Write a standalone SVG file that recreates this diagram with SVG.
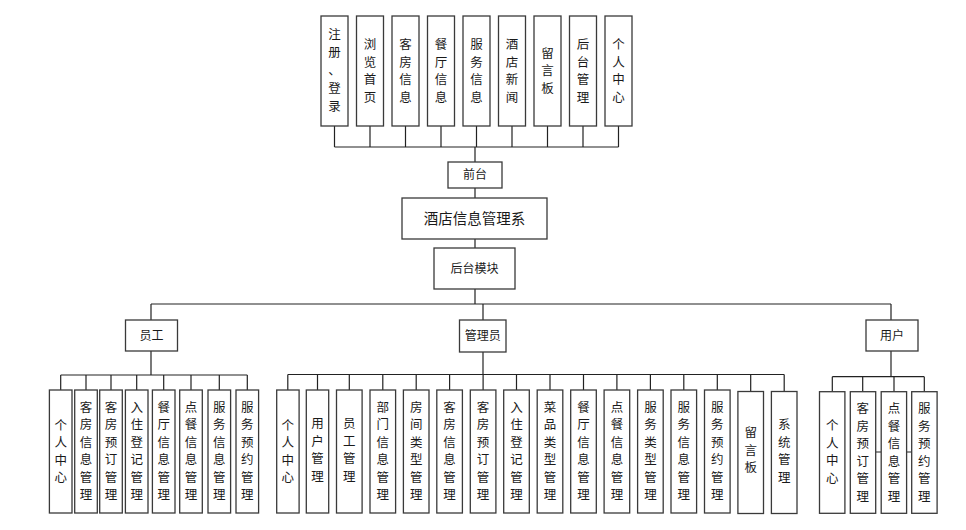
<svg xmlns="http://www.w3.org/2000/svg" width="966" height="530" viewBox="0 0 966 530">
<style>
.b{fill:#fff;stroke:#3a3a3a;stroke-width:1.3}
.c{fill:none;stroke:#222;stroke-width:1.2}
.t{font-family:"Liberation Sans","Noto Sans CJK SC",sans-serif;font-size:12.5px;fill:#1a1a1a;text-anchor:middle;dominant-baseline:central}
.m{font-size:14.5px}
.s{font-size:12px}
</style>
<rect width="966" height="530" fill="#fff"/>
<g id="connectors">
<path class="c" d="M334.5 126V147M370 126V147M405.5 126V147M441 126V147M476.5 126V147M512 126V147M547.5 126V147M583 126V147M618.5 126V147M334.5 147H618.5M475 147V162M475 188V198M475 239V248M475 289V304M151 304H891M151 304V320M891 304V320M483 304V320"/>
<path class="c" d="M151 351V375M60.7 375H247.3M60.7 375V390M86 375V390M111 375V390M136.7 375V390M163.7 375V390M191 375V390M219.3 375V390M247.3 375V390"/>
<path class="c" d="M483 352V374.5" stroke-width="2"/>
<path class="c" d="M287.8 374.5H784.2M287.8 374.5V390M317.5 374.5V390M349.3 374.5V390M382.8 374.5V390M416.2 374.5V390M449.6 374.5V390M483.1 374.5V390M516.5 374.5V390M550 374.5V390M583.5 374.5V390M616.9 374.5V390M650.4 374.5V390M683.8 374.5V390M717.3 374.5V390M750.7 374.5V391.5M784.2 374.5V391.5"/>
<path class="c" d="M891 351V376.7" stroke-width="2"/>
<path class="c" d="M832.3 376.7H924.3M832.3 376.7V391.7M862.7 376.7V391.7M894 376.7V391.7M924.3 376.7V391.7M875.7 452H881M906.7 452H911.7"/>
</g>
<g id="top1"><rect class="b" x="321" y="16" width="27" height="110"/><text class="t"><tspan x="334.5" y="35">注</tspan><tspan x="334.5" y="53">册</tspan><tspan x="334.5" y="71">、</tspan><tspan x="334.5" y="89">登</tspan><tspan x="334.5" y="107">录</tspan></text></g>
<g id="top2"><rect class="b" x="356.5" y="16" width="27" height="110"/><text class="t"><tspan x="370" y="45">浏</tspan><tspan x="370" y="62.5">览</tspan><tspan x="370" y="80">首</tspan><tspan x="370" y="97.5">页</tspan></text></g>
<g id="top3"><rect class="b" x="392" y="16" width="27" height="110"/><text class="t"><tspan x="405.5" y="45">客</tspan><tspan x="405.5" y="62.5">房</tspan><tspan x="405.5" y="80">信</tspan><tspan x="405.5" y="97.5">息</tspan></text></g>
<g id="top4"><rect class="b" x="427.5" y="16" width="27" height="110"/><text class="t"><tspan x="441" y="45">餐</tspan><tspan x="441" y="62.5">厅</tspan><tspan x="441" y="80">信</tspan><tspan x="441" y="97.5">息</tspan></text></g>
<g id="top5"><rect class="b" x="463" y="16" width="27" height="110"/><text class="t"><tspan x="476.5" y="45">服</tspan><tspan x="476.5" y="62.5">务</tspan><tspan x="476.5" y="80">信</tspan><tspan x="476.5" y="97.5">息</tspan></text></g>
<g id="top6"><rect class="b" x="498.5" y="16" width="27" height="110"/><text class="t"><tspan x="512" y="45">酒</tspan><tspan x="512" y="62.5">店</tspan><tspan x="512" y="80">新</tspan><tspan x="512" y="97.5">闻</tspan></text></g>
<g id="top7"><rect class="b" x="534" y="16" width="27" height="110"/><text class="t"><tspan x="547.5" y="53.5">留</tspan><tspan x="547.5" y="71">言</tspan><tspan x="547.5" y="88.5">板</tspan></text></g>
<g id="top8"><rect class="b" x="569.5" y="16" width="27" height="110"/><text class="t"><tspan x="583" y="45">后</tspan><tspan x="583" y="62.5">台</tspan><tspan x="583" y="80">管</tspan><tspan x="583" y="97.5">理</tspan></text></g>
<g id="top9"><rect class="b" x="605" y="16" width="27" height="110"/><text class="t"><tspan x="618.5" y="45">个</tspan><tspan x="618.5" y="62.5">人</tspan><tspan x="618.5" y="80">中</tspan><tspan x="618.5" y="97.5">心</tspan></text></g>
<g id="qiantai"><rect class="b" x="448" y="162" width="54" height="26"/><text class="t s" x="475" y="175">前台</text></g>
<g id="root"><rect class="b" x="402" y="198" width="145" height="41"/><text class="t m" x="474.5" y="218.5">酒店信息管理系</text></g>
<g id="houtai"><rect class="b" x="434" y="248" width="81" height="41"/><text class="t s" x="474.5" y="268.5">后台模块</text></g>
<g id="yuangong"><rect class="b" x="125.5" y="320" width="52" height="31"/><text class="t s" x="151.5" y="335.5">员工</text></g>
<g id="guanliyuan"><rect class="b" x="459.5" y="320" width="46.5" height="32"/><text class="t s" x="482.7" y="336">管理员</text></g>
<g id="yonghu"><rect class="b" x="866" y="320" width="52" height="31"/><text class="t s" x="892" y="335.5">用户</text></g>
<g id="e1"><rect class="b" x="49.4" y="390" width="22.6" height="123"/><text class="t"><tspan x="60.7" y="425.5">个</tspan><tspan x="60.7" y="443">人</tspan><tspan x="60.7" y="460.5">中</tspan><tspan x="60.7" y="478">心</tspan></text></g>
<g id="e2"><rect class="b" x="74.7" y="390" width="22.6" height="123"/><text class="t"><tspan x="86" y="407.5">客</tspan><tspan x="86" y="425">房</tspan><tspan x="86" y="442.5">信</tspan><tspan x="86" y="460">息</tspan><tspan x="86" y="477.5">管</tspan><tspan x="86" y="495">理</tspan></text></g>
<g id="e3"><rect class="b" x="99.7" y="390" width="22.6" height="123"/><text class="t"><tspan x="111" y="407.5">客</tspan><tspan x="111" y="425">房</tspan><tspan x="111" y="442.5">预</tspan><tspan x="111" y="460">订</tspan><tspan x="111" y="477.5">管</tspan><tspan x="111" y="495">理</tspan></text></g>
<g id="e4"><rect class="b" x="125.4" y="390" width="22.6" height="123"/><text class="t"><tspan x="136.7" y="407.5">入</tspan><tspan x="136.7" y="425">住</tspan><tspan x="136.7" y="442.5">登</tspan><tspan x="136.7" y="460">记</tspan><tspan x="136.7" y="477.5">管</tspan><tspan x="136.7" y="495">理</tspan></text></g>
<g id="e5"><rect class="b" x="152.4" y="390" width="22.6" height="123"/><text class="t"><tspan x="163.7" y="407.5">餐</tspan><tspan x="163.7" y="425">厅</tspan><tspan x="163.7" y="442.5">信</tspan><tspan x="163.7" y="460">息</tspan><tspan x="163.7" y="477.5">管</tspan><tspan x="163.7" y="495">理</tspan></text></g>
<g id="e6"><rect class="b" x="179.7" y="390" width="22.6" height="123"/><text class="t"><tspan x="191" y="407.5">点</tspan><tspan x="191" y="425">餐</tspan><tspan x="191" y="442.5">信</tspan><tspan x="191" y="460">息</tspan><tspan x="191" y="477.5">管</tspan><tspan x="191" y="495">理</tspan></text></g>
<g id="e7"><rect class="b" x="208" y="390" width="22.6" height="123"/><text class="t"><tspan x="219.3" y="407.5">服</tspan><tspan x="219.3" y="425">务</tspan><tspan x="219.3" y="442.5">信</tspan><tspan x="219.3" y="460">息</tspan><tspan x="219.3" y="477.5">管</tspan><tspan x="219.3" y="495">理</tspan></text></g>
<g id="e8"><rect class="b" x="236" y="390" width="22.6" height="123"/><text class="t"><tspan x="247.3" y="407.5">服</tspan><tspan x="247.3" y="425">务</tspan><tspan x="247.3" y="442.5">预</tspan><tspan x="247.3" y="460">约</tspan><tspan x="247.3" y="477.5">管</tspan><tspan x="247.3" y="495">理</tspan></text></g>
<g id="a1"><rect class="b" x="276.7" y="390" width="22.4" height="123"/><text class="t"><tspan x="287.8" y="425.5">个</tspan><tspan x="287.8" y="443">人</tspan><tspan x="287.8" y="460.5">中</tspan><tspan x="287.8" y="478">心</tspan></text></g>
<g id="a2"><rect class="b" x="306.3" y="390" width="22.4" height="123"/><text class="t"><tspan x="317.5" y="424">用</tspan><tspan x="317.5" y="441.5">户</tspan><tspan x="317.5" y="459">管</tspan><tspan x="317.5" y="476.5">理</tspan></text></g>
<g id="a3"><rect class="b" x="336.5" y="390" width="25.6" height="123"/><text class="t"><tspan x="349.3" y="424">员</tspan><tspan x="349.3" y="441.5">工</tspan><tspan x="349.3" y="459">管</tspan><tspan x="349.3" y="476.5">理</tspan></text></g>
<g id="a4"><rect class="b" x="370" y="390" width="25.6" height="123"/><text class="t"><tspan x="382.8" y="407.5">部</tspan><tspan x="382.8" y="425">门</tspan><tspan x="382.8" y="442.5">信</tspan><tspan x="382.8" y="460">息</tspan><tspan x="382.8" y="477.5">管</tspan><tspan x="382.8" y="495">理</tspan></text></g>
<g id="a5"><rect class="b" x="403.4" y="390" width="25.6" height="123"/><text class="t"><tspan x="416.2" y="407.5">房</tspan><tspan x="416.2" y="425">间</tspan><tspan x="416.2" y="442.5">类</tspan><tspan x="416.2" y="460">型</tspan><tspan x="416.2" y="477.5">管</tspan><tspan x="416.2" y="495">理</tspan></text></g>
<g id="a6"><rect class="b" x="436.8" y="390" width="25.6" height="123"/><text class="t"><tspan x="449.6" y="407.5">客</tspan><tspan x="449.6" y="425">房</tspan><tspan x="449.6" y="442.5">信</tspan><tspan x="449.6" y="460">息</tspan><tspan x="449.6" y="477.5">管</tspan><tspan x="449.6" y="495">理</tspan></text></g>
<g id="a7"><rect class="b" x="470.3" y="390" width="25.6" height="123"/><text class="t"><tspan x="483.1" y="407.5">客</tspan><tspan x="483.1" y="425">房</tspan><tspan x="483.1" y="442.5">预</tspan><tspan x="483.1" y="460">订</tspan><tspan x="483.1" y="477.5">管</tspan><tspan x="483.1" y="495">理</tspan></text></g>
<g id="a8"><rect class="b" x="503.7" y="390" width="25.6" height="123"/><text class="t"><tspan x="516.5" y="407.5">入</tspan><tspan x="516.5" y="425">住</tspan><tspan x="516.5" y="442.5">登</tspan><tspan x="516.5" y="460">记</tspan><tspan x="516.5" y="477.5">管</tspan><tspan x="516.5" y="495">理</tspan></text></g>
<g id="a9"><rect class="b" x="537.2" y="390" width="25.6" height="123"/><text class="t"><tspan x="550" y="407.5">菜</tspan><tspan x="550" y="425">品</tspan><tspan x="550" y="442.5">类</tspan><tspan x="550" y="460">型</tspan><tspan x="550" y="477.5">管</tspan><tspan x="550" y="495">理</tspan></text></g>
<g id="a10"><rect class="b" x="570.7" y="390" width="25.6" height="123"/><text class="t"><tspan x="583.5" y="407.5">餐</tspan><tspan x="583.5" y="425">厅</tspan><tspan x="583.5" y="442.5">信</tspan><tspan x="583.5" y="460">息</tspan><tspan x="583.5" y="477.5">管</tspan><tspan x="583.5" y="495">理</tspan></text></g>
<g id="a11"><rect class="b" x="604.1" y="390" width="25.6" height="123"/><text class="t"><tspan x="616.9" y="407.5">点</tspan><tspan x="616.9" y="425">餐</tspan><tspan x="616.9" y="442.5">信</tspan><tspan x="616.9" y="460">息</tspan><tspan x="616.9" y="477.5">管</tspan><tspan x="616.9" y="495">理</tspan></text></g>
<g id="a12"><rect class="b" x="637.6" y="390" width="25.6" height="123"/><text class="t"><tspan x="650.4" y="407.5">服</tspan><tspan x="650.4" y="425">务</tspan><tspan x="650.4" y="442.5">类</tspan><tspan x="650.4" y="460">型</tspan><tspan x="650.4" y="477.5">管</tspan><tspan x="650.4" y="495">理</tspan></text></g>
<g id="a13"><rect class="b" x="671" y="390" width="25.6" height="123"/><text class="t"><tspan x="683.8" y="407.5">服</tspan><tspan x="683.8" y="425">务</tspan><tspan x="683.8" y="442.5">信</tspan><tspan x="683.8" y="460">息</tspan><tspan x="683.8" y="477.5">管</tspan><tspan x="683.8" y="495">理</tspan></text></g>
<g id="a14"><rect class="b" x="704.5" y="390" width="25.6" height="123"/><text class="t"><tspan x="717.3" y="407.5">服</tspan><tspan x="717.3" y="425">务</tspan><tspan x="717.3" y="442.5">预</tspan><tspan x="717.3" y="460">约</tspan><tspan x="717.3" y="477.5">管</tspan><tspan x="717.3" y="495">理</tspan></text></g>
<g id="a15"><rect class="b" x="737.9" y="391.5" width="25.6" height="122"/><text class="t"><tspan x="750.7" y="433">留</tspan><tspan x="750.7" y="450.5">言</tspan><tspan x="750.7" y="468">板</tspan></text></g>
<g id="a16"><rect class="b" x="771.4" y="391.5" width="25.6" height="122"/><text class="t"><tspan x="784.2" y="425">系</tspan><tspan x="784.2" y="442.5">统</tspan><tspan x="784.2" y="460">管</tspan><tspan x="784.2" y="477.5">理</tspan></text></g>
<g id="u1"><rect class="b" x="819.5" y="391.7" width="25.4" height="121.6"/><text class="t"><tspan x="832.3" y="426">个</tspan><tspan x="832.3" y="443.5">人</tspan><tspan x="832.3" y="461">中</tspan><tspan x="832.3" y="478.5">心</tspan></text></g>
<g id="u2"><rect class="b" x="850.3" y="391.7" width="25.4" height="121.6"/><text class="t"><tspan x="862.7" y="409">客</tspan><tspan x="862.7" y="426.5">房</tspan><tspan x="862.7" y="444">预</tspan><tspan x="862.7" y="461.5">订</tspan><tspan x="862.7" y="479">管</tspan><tspan x="862.7" y="496.5">理</tspan></text></g>
<g id="u3"><rect class="b" x="881.2" y="391.7" width="25.4" height="121.6"/><text class="t"><tspan x="894" y="409">点</tspan><tspan x="894" y="426.5">餐</tspan><tspan x="894" y="444">信</tspan><tspan x="894" y="461.5">息</tspan><tspan x="894" y="479">管</tspan><tspan x="894" y="496.5">理</tspan></text></g>
<g id="u4"><rect class="b" x="911.7" y="391.7" width="25.4" height="121.6"/><text class="t"><tspan x="924.3" y="409">服</tspan><tspan x="924.3" y="426.5">务</tspan><tspan x="924.3" y="444">预</tspan><tspan x="924.3" y="461.5">约</tspan><tspan x="924.3" y="479">管</tspan><tspan x="924.3" y="496.5">理</tspan></text></g>
</svg>
